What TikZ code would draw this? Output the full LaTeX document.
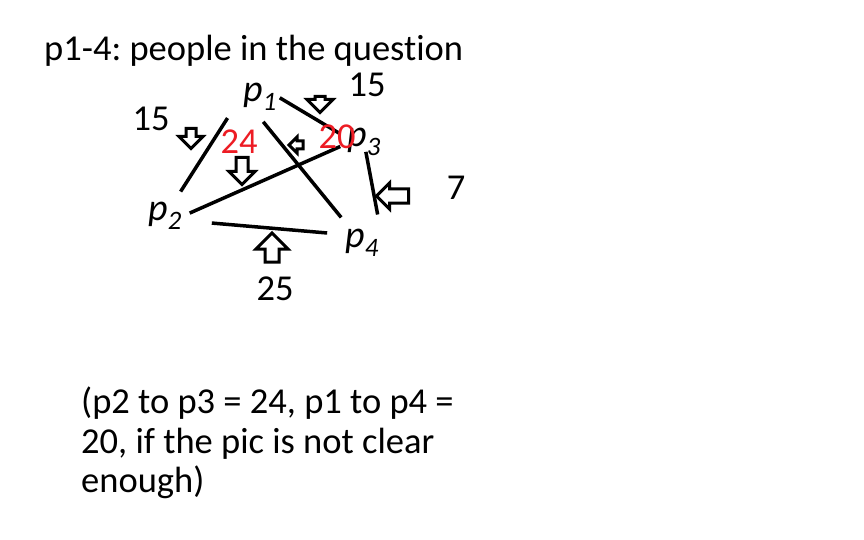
\documentclass[tikz,border=0pt]{standalone}
\usepackage{fontspec}
\setmainfont{Carlito}[Ligatures={NoCommon,NoRare}]
\usepackage{xcolor}
\usetikzlibrary{shapes.arrows}
\definecolor{paintred}{RGB}{237,28,36}
\frenchspacing

\begin{document}
\begin{tikzpicture}[x=1pt, y=-1pt,
    txt/.style={font=\fontsize{36.5}{39.5}\selectfont, inner sep=0pt},
    hand/.style={font=\fontsize{38}{40}\selectfont\itshape, inner sep=0pt},
    edge/.style={line width=3.5pt},
    barrow/.style n args={4}{single arrow, draw, line width=3pt, fill=white,
      inner sep=0pt, inner ysep=#2, minimum height=#1,
      single arrow head extend=#3, rotate=#4}]
    \useasboundingbox (0,0) rectangle (864,540);
    % title
    \node[txt, anchor=base west] (title) at (44,61) {p1-4: people in the question};
    % people
    \node[hand] (p1) at (260,97) {p\textsubscript{1}};
    \node[hand] (p2) at (165,216) {p\textsubscript{2}};
    \node[hand] (p3) at (364,142) {p\textsubscript{3}};
    \node[hand] (p4) at (362,243) {p\textsubscript{4}};
    % links
    \draw[edge, shorten <=25pt, shorten >=29pt] ([xshift=-19pt]p1.center) -- (p2.center);
    \draw[edge, shorten <=23pt, shorten >=29pt] ([yshift=11pt]p1.center) -- ([yshift=-6pt]p3.center);
    \draw[edge, shorten <=32pt, shorten >=33pt] ([xshift=-17pt]p1.center) -- (p4.center);
    \draw[edge, shorten <=27pt, shorten >=26pt] ([yshift=-8pt]p2.center) -- ([yshift=6pt]p3.center);
    \draw[edge, shorten <=10pt, shorten >=29pt] (p3.center) -- ([xshift=21pt]p4.center);
    \draw[edge, shorten <=47pt, shorten >=35pt] ([yshift=-3pt]p2.center) -- ([yshift=7pt]p4.center);
    % weights
    \node[txt] (w12) at (151,119) {15};
    \node[txt] (w13) at (367,85) {15};
    \node[txt, text=paintred] (w23) at (239,142) {24};
    \node[txt, text=paintred] (w14) at (337,137) {20};
    \node[txt] (w34) at (456,188) {7};
    \node[txt] (w24) at (275,289) {25};
    % block arrows
    \node[barrow={20pt}{3.5pt}{7pt}{-90}] (a12) at (191,136) {};
    \node[barrow={16pt}{3.5pt}{8pt}{-90}] (a13) at (320,102) {};
    \node[barrow={27pt}{4.5pt}{7pt}{-90}] (a23) at (242,168) {};
    \node[barrow={14pt}{2.5pt}{4pt}{180}] (a14) at (298,145) {};
    \node[barrow={32pt}{5.5pt}{6pt}{180}] (a34) at (396,196) {};
    \node[barrow={29pt}{5.5pt}{9pt}{90}] (a24) at (272,251) {};
    % note
    \node[txt, anchor=north west, align=left] (note) at (81,387)
      {(p2 to p3 = 24, p1 to p4 =\\20, if the pic is not clear\\enough)};
\end{tikzpicture}
\end{document}
